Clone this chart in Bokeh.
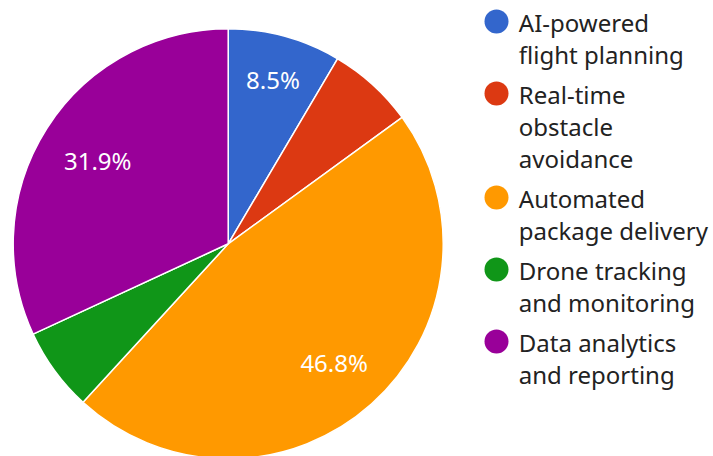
import math
from bokeh.plotting import figure
from bokeh.models import Range1d, ColumnDataSource
from bokeh.core.properties import value
from bokeh.embed import file_html
from bokeh.resources import INLINE

categories = ["AI-powered\nflight planning", "Real-time\nobstacle\navoidance",
              "Automated\npackage delivery", "Drone tracking\nand monitoring",
              "Data analytics\nand reporting"]
shares = [8.5, 6.5, 46.8, 6.3, 31.9]
colors = ["#3366cc", "#dc3912", "#ff9900", "#109618", "#990099"]

W, H = 713, 456
FONT = "Noto Sans"

p = figure(width=W, height=H, output_backend="svg", toolbar_location=None,
           x_range=Range1d(0, W), y_range=Range1d(0, H), min_border=0,
           outline_line_color=None)
p.axis.visible = False
p.grid.visible = False

def Y(fy):
    return H - fy

cx, cy, R = 227.7, Y(243.3), 215.0
total = sum(shares)
starts, ends = [], []
acc = 0.0
for s in shares:
    a0 = math.pi / 2 - 2 * math.pi * acc / total
    acc += s
    a1 = math.pi / 2 - 2 * math.pi * acc / total
    starts.append(a0)
    ends.append(a1)

src = ColumnDataSource(dict(x=[cx] * len(shares), y=[cy] * len(shares),
                            start=starts, end=ends, color=colors))
p.wedge(x="x", y="y", radius=R, start_angle="start", end_angle="end",
        direction="clock", fill_color="color", line_color="white",
        line_width=1.5, source=src)

# slice labels (shown only where they fit)
label_rf = [0.79, 0.75, 0.74, 0.75, 0.72]
lx, ly, lt = [], [], []
for i, s in enumerate(shares):
    if s < 8:
        continue
    mid = (starts[i] + ends[i]) / 2
    r = R * label_rf[i]
    lx.append(cx + r * math.cos(mid))
    ly.append(cy + r * math.sin(mid))
    lt.append(f"{s:.1f}%")
p.text(x=lx, y=ly, text=lt, text_color="white", text_font=value(FONT),
       text_font_size="24px", text_align="center", text_baseline="middle")

# legend
leg_x_dot, leg_x_txt = 496.0, 518.3
base = 21.5   # vertical centre of first text line
line_step, entry_gap = 32.0, 40.0
dots_x, dots_y, tx, ty, tt = [], [], [], [], []
for i, name in enumerate(categories):
    lines = name.split("\n")
    dots_x.append(leg_x_dot)
    dots_y.append(Y(base - 0.5))
    for j, ln in enumerate(lines):
        tx.append(leg_x_txt)
        ty.append(Y(base + j * line_step))
        tt.append(ln)
    base += (len(lines) - 1) * line_step + entry_gap
p.scatter(x=dots_x, y=dots_y, size=24, marker="circle", fill_color=colors,
          line_color=None)
p.text(x=tx, y=ty, text=tt, text_color="#222222", text_font=value(FONT),
       text_font_size="24px", text_align="left", text_baseline="middle")

open("out.html", "w").write(file_html(p, INLINE))
